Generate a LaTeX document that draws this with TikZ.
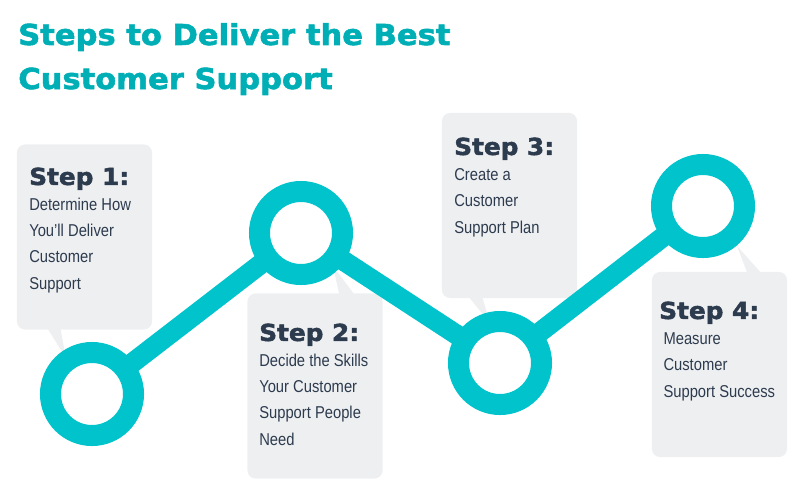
\documentclass[tikz,border=0pt]{standalone}
\usepackage{fontspec}
\setmainfont{Liberation Sans}
\newfontfamily\headfont[FakeStretch=1.06,FakeBold=2]{DejaVu Sans}
\newfontfamily\bodyfont[FakeStretch=0.86]{Liberation Sans}

\definecolor{ringteal}{HTML}{00C3CB}
\definecolor{titleteal}{HTML}{00AFB6}
\definecolor{inkdark}{HTML}{2D3B4E}
\definecolor{cardgray}{HTML}{EEEFF1}

\newcommand{\stephead}{\headfont\bfseries\fontsize{16.6}{18.5}\selectfont}

\tikzset{
  title/.style={anchor=base west, align=left, inner sep=0pt, text=titleteal,
    font=\headfont\bfseries\fontsize{20.5}{31.3}\selectfont},
  card/.style={fill=cardgray, rounded corners=0.2cm, inner sep=0pt,
    minimum width=3.375cm, minimum height=4.625cm},
  steptext/.style={anchor=base west, align=left, inner sep=0pt, text=inkdark,
    font=\bodyfont\fontsize{12.2}{18.5}\selectfont},
  ring/.style={circle, draw=ringteal, fill=white, line width=0.525cm,
    minimum size=2.075cm, inner sep=0pt, outer sep=0pt},
  link/.style={ringteal, line width=0.5cm},
}

\begin{document}
\begin{tikzpicture}[x=0.025cm,y=-0.025cm]
  \useasboundingbox (0,0) rectangle (800,500);

  % Title (placed by its last line)
  \node[title] (title) at (18,89) {Steps to Deliver the Best\\Customer Support};

  % Step cards with their pointers
  \node[card] (card1) at (84.5,237) {};
  \fill[cardgray] (46,326) -- (60,326) -- (66,358) -- cycle;
  \node[card] (card2) at (315,386) {};
  \fill[cardgray] (340,298) -- (357,298) -- (333,266) -- cycle;
  \node[card] (card3) at (509.5,205.5) {};
  \fill[cardgray] (468,296) -- (482,296) -- (490,323) -- cycle;
  \node[card] (card4) at (719.5,364.5) {};
  \fill[cardgray] (748,275) -- (763,275) -- (737,246) -- cycle;

  % Step texts (placed by their last line)
  \node[steptext] (text1) at (29,289) {{\stephead Step 1:}\\Determine How\\You’ll Deliver\\Customer\\Support};
  \node[steptext] (text2) at (259,445) {{\stephead Step 2:}\\Decide the Skills\\Your Customer\\Support People\\Need};
  \node[steptext] (text3) at (454,233) {{\stephead Step 3:}\\Create a\\Customer\\Support Plan};
  \node[steptext] (text4) at (659,397) {{\stephead Step 4:}\\\hspace{3pt}Measure\\\hspace{3pt}Customer\\\hspace{3pt}Support Success};

  % Rings and the path between them
  \node[ring] (ring1) at (92,394) {};
  \node[ring] (ring2) at (301,233) {};
  \node[ring] (ring3) at (500,363) {};
  \node[ring] (ring4) at (703,206) {};
  \draw[link] (ring1) -- (ring2);
  \draw[link] (ring2) -- (ring3);
  \draw[link] (ring3) -- (ring4);
\end{tikzpicture}
\end{document}
